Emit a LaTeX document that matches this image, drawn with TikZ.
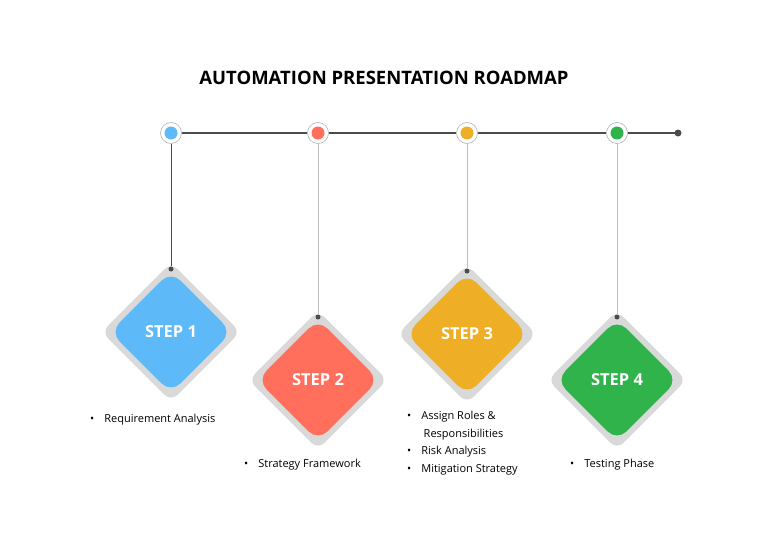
\documentclass[tikz,border=0pt]{standalone}
\usepackage{fontspec}
\setmainfont{Open Sans}
\begin{document}
\begin{tikzpicture}[x=1pt,y=-1pt,
  outer/.style={fill=black!15,rounded corners=9pt,minimum size=98pt,rotate=45,draw=none},
  inner/.style={rounded corners=13pt,minimum size=86pt,rotate=45,draw=none},
  stept/.style={text=white,font=\bfseries\fontsize{16.5}{18}\selectfont},
  ring/.style={circle,fill=white,draw=black!30,line width=0.6pt,minimum size=21pt,inner sep=0pt},
  dotc/.style={circle,minimum size=13pt,inner sep=0pt},
  hang/.style={circle,fill=black!70,minimum size=5pt,inner sep=0pt},
  bl/.style={font=\fontsize{11}{17.5}\selectfont,anchor=west,align=left,inner sep=0pt}]
\useasboundingbox (0,0) rectangle (768,543);
\definecolor{c1}{HTML}{5DB9F8}\definecolor{c2}{HTML}{FF6F5B}
\definecolor{c3}{HTML}{EEAE26}\definecolor{c4}{HTML}{31B34C}
\node[font=\bfseries\fontsize{18.5}{20}\selectfont] (title) at (384,78) {AUTOMATION PRESENTATION ROADMAP};
\coordinate (e) at (678,133);
\node[ring] (r1) at (171,133) {};
\node[ring] (r2) at (318,133) {};
\node[ring] (r3) at (467,133) {};
\node[ring] (r4) at (617,133) {};
\draw[black!70,line width=2pt] (r1)--(r2) (r2)--(r3) (r3)--(r4) (r4)--(e);
\fill[black!70] (e) circle (3.5pt);
\foreach \i/\x/\y/\c in {1/171/332/c1,2/318/380/c2,3/467/334/c3,4/617/380/c4}{
  \node[dotc,fill=\c] at (r\i) {};
  \node[outer] (o\i) at (\x,\y) {};
  \node[inner,fill=\c] (d\i) at (\x,\y) {};
  \node[stept] (s\i) at (\x,\y) {STEP \i};
  \node[hang] (h\i) at (\x,\y-63) {};
}
\draw[black!70,line width=0.8pt] (r1)--(h1);
\draw[black!25,line width=0.8pt] (r2)--(h2) (r3)--(h3) (r4)--(h4);
\node[bl] (b1) at (90,420) {\textbullet\hspace{10pt}Requirement Analysis};
\node[bl] (b2) at (244,465) {\textbullet\hspace{10pt}Strategy Framework};
\node[bl,anchor=north west] (b3) at (407,411) {\textbullet\hspace{10pt}Assign Roles \&\\\hspace{16.5pt}Responsibilities\\\textbullet\hspace{10pt}Risk Analysis\\\textbullet\hspace{10pt}Mitigation Strategy};
\node[bl] (b4) at (570,465) {\textbullet\hspace{10pt}Testing Phase};
\end{tikzpicture}
\end{document}
